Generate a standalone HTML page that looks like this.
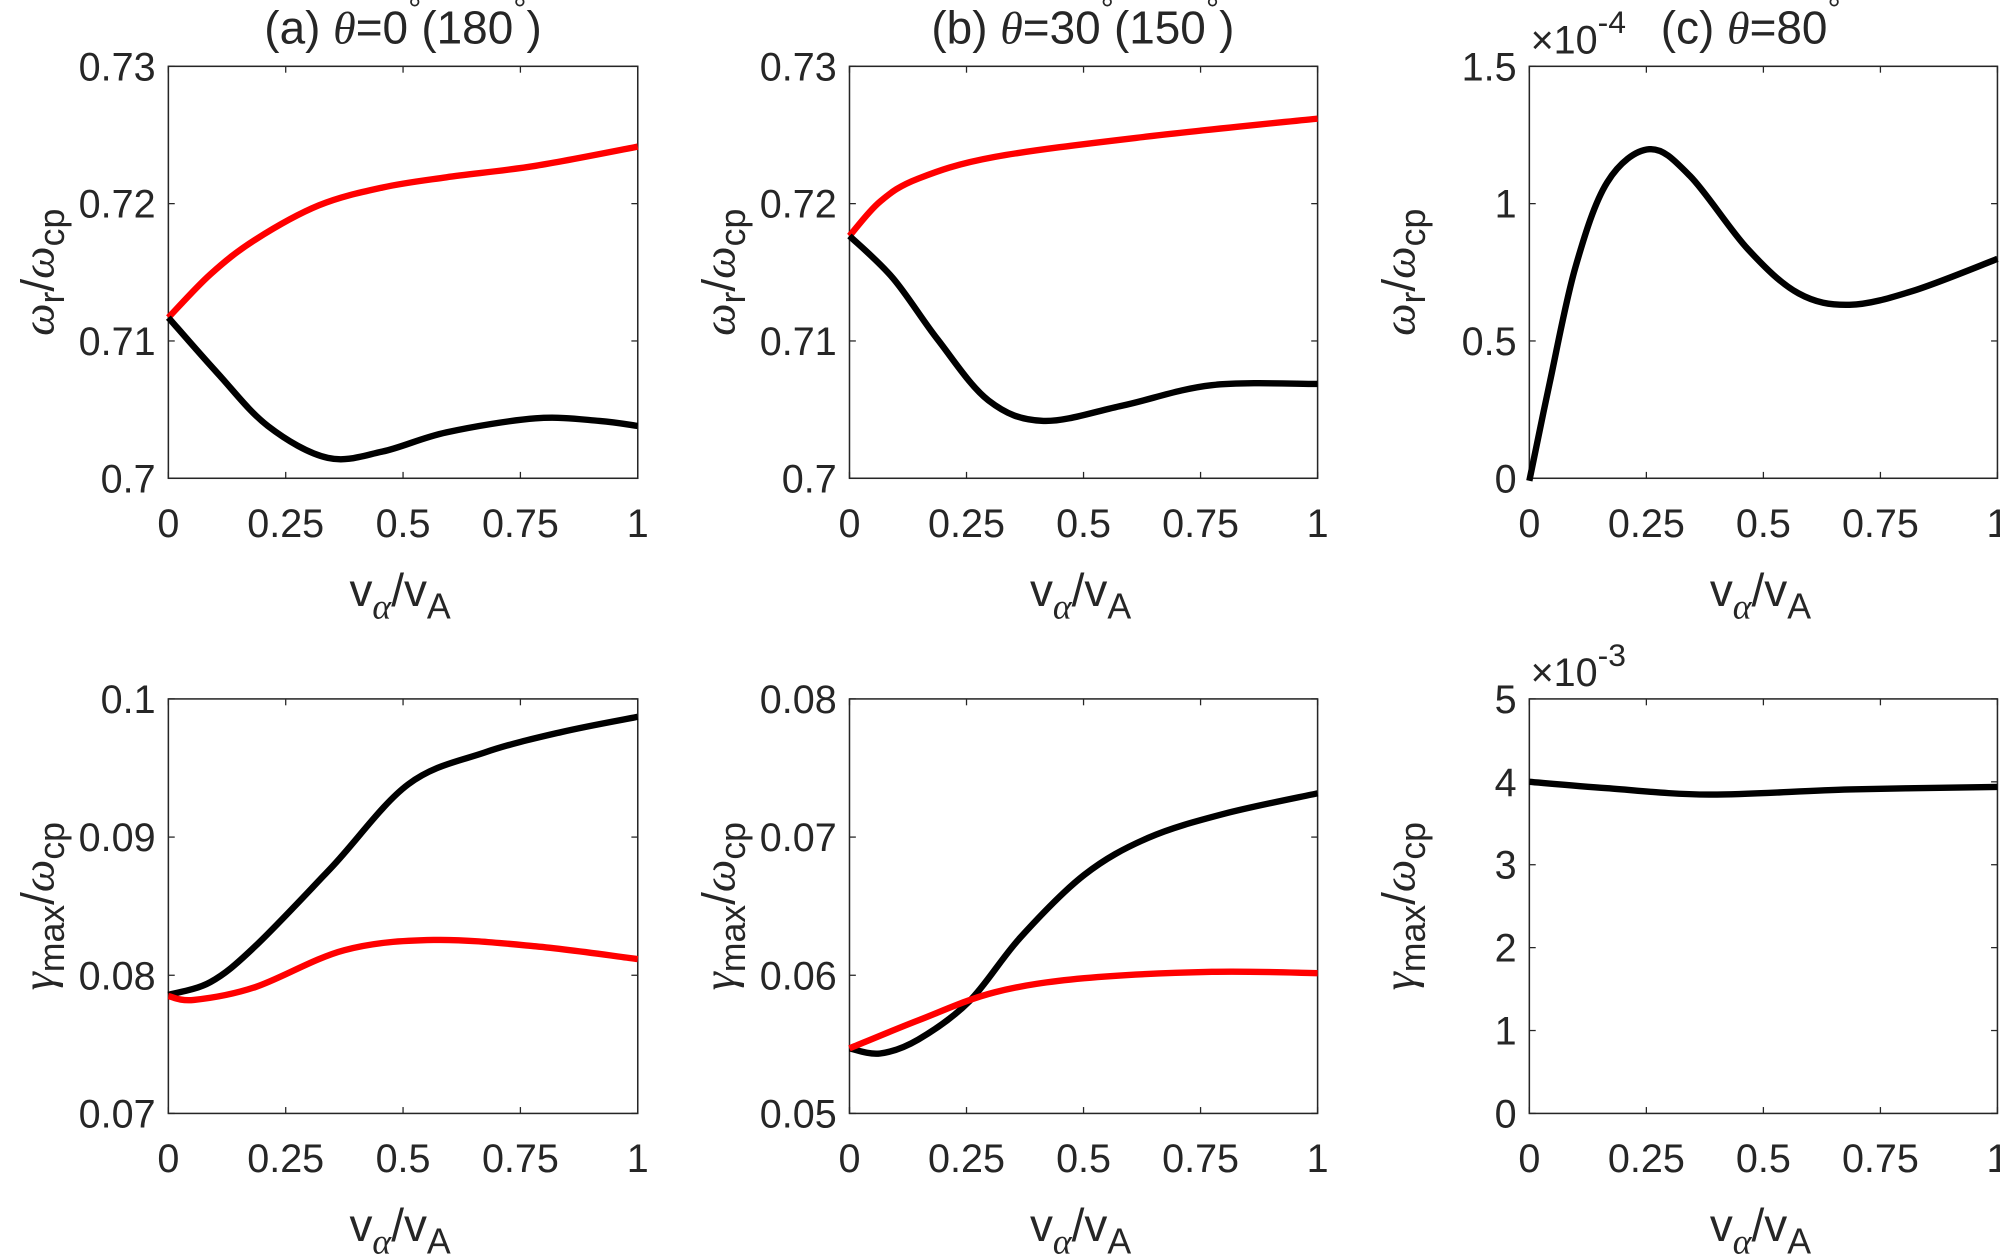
<!DOCTYPE html>
<html><head><meta charset="utf-8"><style>
html,body{margin:0;padding:0;background:#fff;}
svg{display:block;}
text{font-family:"Liberation Sans",sans-serif;fill:#262626;}
.t{font-size:31px;}
.l{font-size:36px;}
.it{font-style:italic;font-family:"Liberation Serif",serif;}
</style></head><body>
<svg id="s" width="2000" height="1255" viewBox="0 0 1568 984" preserveAspectRatio="none" xmlns="http://www.w3.org/2000/svg"></svg>
<script>
const S=document.getElementById('s');let h='';
const cols=[[132,500],[666,1033],[1199,1566]],rows=[[52,375],[548,873]];
function cr(p){let d='M'+p[0][0]+','+p[0][1];for(let i=0;i<p.length-1;i++){const a=p[Math.max(i-1,0)],b=p[i],c=p[i+1],e=p[Math.min(i+2,p.length-1)];
d+=` C${b[0]+(c[0]-a[0])/6},${b[1]+(c[1]-a[1])/6} ${c[0]-(e[0]-b[0])/6},${c[1]-(e[1]-b[1])/6} ${c[0]},${c[1]}`;}return d;}
function axes(ci,ri,yt,ylab){const [x0,x1]=cols[ci],[y0,y1]=rows[ri];
h+=`<rect x="${x0}" y="${y0}" width="${x1-x0}" height="${y1-y0}" fill="none" stroke="#262626" stroke-width="1.2"/>`;
['0','0.25','0.5','0.75','1'].forEach((l,i)=>{const x=x0+(x1-x0)*i/4;
h+=`<line x1="${x}" y1="${y1}" x2="${x}" y2="${y1-5}" stroke="#262626"/><line x1="${x}" y1="${y0}" x2="${x}" y2="${y0+5}" stroke="#262626"/>`;
h+=`<text class="t" x="${x}" y="${y1+46}" text-anchor="middle">${l}</text>`;});
yt.forEach((l,i)=>{const y=y1-(y1-y0)*i/(yt.length-1);
h+=`<line x1="${x0}" y1="${y}" x2="${x0+5}" y2="${y}" stroke="#262626"/><line x1="${x1}" y1="${y}" x2="${x1-5}" y2="${y}" stroke="#262626"/>`;
h+=`<text class="t" x="${x0-10}" y="${y+11}" text-anchor="end">${l}</text>`;});
const xc=(x0+x1)/2;
h+=`<text class="l" x="${xc-42}" y="${y1+100}">v<tspan class="it" font-size="28" dy="10">α</tspan><tspan dy="-10">/v</tspan><tspan font-size="28" dy="10">A</tspan></text>`;
h+=`<text class="l" transform="translate(${x0-90},${(y0+y1)/2}) rotate(-90)" text-anchor="middle">${ylab}</text>`;}
const ylw='<tspan class="it">ω</tspan><tspan font-size="28" dy="8">r</tspan><tspan dy="-8">/</tspan><tspan class="it">ω</tspan><tspan font-size="28" dy="8">cp</tspan>';
const ylg='<tspan class="it">γ</tspan><tspan font-size="28" dy="8">max</tspan><tspan dy="-8">/</tspan><tspan class="it">ω</tspan><tspan font-size="28" dy="8">cp</tspan>';
axes(0,0,['0.7','0.71','0.72','0.73'],ylw);axes(1,0,['0.7','0.71','0.72','0.73'],ylw);axes(2,0,['0','0.5','1','1.5'],ylw);
axes(0,1,['0.07','0.08','0.09','0.1'],ylg);axes(1,1,['0.05','0.06','0.07','0.08'],ylg);axes(2,1,['0','1','2','3','4','5'],ylg);
function ln(p,c){h+=`<path d="${cr(p)}" fill="none" stroke="${c}" stroke-width="5" stroke-linejoin="round"/>`;}
ln([[132,249],[165,215],[200,188],[250,161],[300,147],[350,139],[420,130],[500,115]],'#f00');
ln([[132,249],[170,292],[210,334],[257,359],[300,354],[350,339],[420,328],[470,330],[500,334]],'#000');
ln([[666,185],[690,158],[720,140],[780,123],[900,107],[1033,93]],'#f00');
ln([[666,185],[700,218],[735,266],[775,314],[818,330],[880,318],[950,302],[1033,301]],'#000');
ln([[1199,377],[1215,300],[1235,210],[1260,143],[1293,117],[1325,138],[1370,195],[1410,230],[1450,239],[1500,228],[1566,203]],'#000');
ln([[132,780],[165,770],[200,742],[260,680],[320,615],[380,590],[440,574],[500,562]],'#000');
ln([[132,781],[152,784],[200,774],[270,745],[340,737],[420,742],[500,752]],'#f00');
ln([[666,822],[690,826],[720,815],[760,785],[800,735],[850,686],[900,657],[960,638],[1033,622]],'#000');
ln([[666,822],[720,800],[780,778],[850,767],[950,762],[1033,763]],'#f00');
ln([[1199,613],[1260,618],[1340,623],[1450,619],[1566,617]],'#000');
h+=`<text class="l" x="316" y="34" text-anchor="middle">(a) <tspan class="it">θ</tspan>=0<tspan font-size="26" dy="-18">°</tspan><tspan dy="18">(180</tspan><tspan font-size="26" dy="-18">°</tspan><tspan dy="18">)</tspan></text>`;
h+=`<text class="l" x="849" y="34" text-anchor="middle">(b) <tspan class="it">θ</tspan>=30<tspan font-size="26" dy="-18">°</tspan><tspan dy="18">(150</tspan><tspan font-size="26" dy="-18">°</tspan><tspan dy="18">)</tspan></text>`;
h+=`<text class="l" x="1302" y="34">(c) <tspan class="it">θ</tspan>=80<tspan font-size="26" dy="-18">°</tspan></text>`;
h+=`<text class="t" x="1200" y="42" font-size="32">×10<tspan font-size="25" dy="-16">-4</tspan></text>`;
h+=`<text class="t" x="1200" y="538" font-size="32">×10<tspan font-size="25" dy="-16">-3</tspan></text>`;
S.innerHTML=h;
</script>
</body></html>
